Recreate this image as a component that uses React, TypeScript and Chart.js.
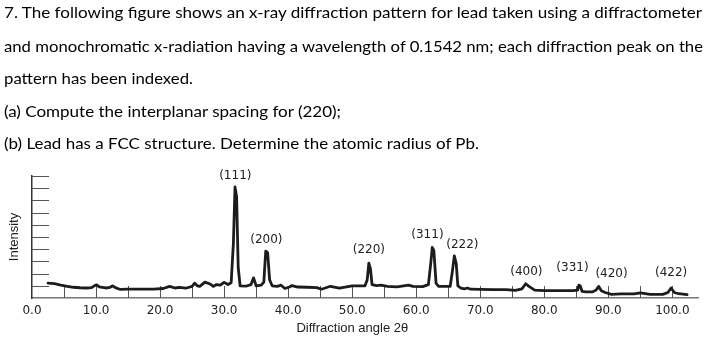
import React, { useEffect, useLayoutEffect, useRef } from "react";
import { Chart, registerables } from "chart.js";

Chart.register(...registerables);

// ---------- text ----------
const questionLines = [
  "7. The following figure shows an x-ray diffraction pattern for lead taken using a diffractometer",
  "and monochromatic x-radiation having a wavelength of 0.1542 nm; each diffraction peak on the",
  "pattern has been indexed.",
  "(a) Compute the interplanar spacing for (220);",
  "(b) Lead has a FCC structure. Determine the atomic radius of Pb.",
];

// ---------- data ----------
const twoTheta = [
  2.5, 3.5, 4.5, 5.5, 6.5, 7.5, 8.5, 9.3, 9.8, 10.1, 10.5, 11.5, 12.2, 12.6, 13.0, 13.8, 15, 17, 19, 20.5,
  21.5, 22.3, 23, 24, 25, 25.4, 25.8, 26.2, 27, 27.8, 28.3, 28.8, 29.4, 30, 30.6, 31.1, 31.45, 31.7, 31.95, 32.2,
  32.5, 33.5, 34.2, 34.6, 35, 35.8, 36.2, 36.5, 36.8, 37.1, 37.5, 38.3, 38.9, 39.5, 40.2, 40.6, 41.5, 43, 44.5, 45.2,
  46.6, 48, 50, 52, 52.35, 52.6, 52.85, 53.1, 53.8, 54.5, 55.5, 57, 58.8, 59.5, 61, 61.9, 62.3, 62.5, 62.75, 63.1,
  63.5, 65.3, 65.65, 65.95, 66.25, 66.5, 67, 67.5, 68, 68.5, 70, 72, 74, 75.5, 76.5, 77.1, 77.6, 78.5, 80, 82,
  84.5, 85.2, 85.4, 85.6, 85.9, 86.5, 87.5, 88.1, 88.5, 88.9, 89.5, 90.5, 92, 94, 95, 96.5, 98.5, 99.3, 99.8, 100.3,
  101, 102.3,
];
const intensity = [
  1.22, 1.18, 1.05, 0.95, 0.88, 0.84, 0.82, 0.85, 1.02, 1.08, 0.92, 0.82, 0.88, 1.0, 0.85, 0.7, 0.73, 0.73, 0.72, 0.78,
  0.95, 0.82, 0.88, 0.8, 0.95, 1.22, 1.0, 0.95, 1.3, 1.15, 0.95, 1.1, 1.05, 1.28, 1.1, 1.25, 4.5, 9.1, 8.3, 2.5,
  1.0, 0.98, 1.1, 1.65, 1.0, 1.05, 1.3, 3.85, 3.7, 1.5, 1.0, 0.95, 1.05, 0.78, 0.9, 1.02, 0.9, 0.88, 0.85, 0.72,
  0.96, 0.8, 1.0, 1.0, 1.5, 2.85, 2.4, 1.1, 1.02, 1.05, 0.95, 0.92, 1.05, 0.95, 0.93, 1.1, 3.0, 4.15, 3.9, 1.2,
  0.95, 0.95, 2.2, 3.45, 2.8, 1.0, 0.8, 0.75, 0.82, 0.72, 0.7, 0.68, 0.68, 0.62, 0.75, 1.17, 0.95, 0.65, 0.6, 0.6,
  0.6, 0.65, 1.05, 1.0, 0.55, 0.5, 0.5, 0.65, 0.95, 0.6, 0.45, 0.3, 0.33, 0.33, 0.42, 0.3, 0.3, 0.45, 0.82, 0.45,
  0.35, 0.27,
];

const peakLabels = ["(111)", "(200)", "(220)", "(311)", "(222)", "(400)", "(331)", "(420)", "(422)"];
const peakLabelX = [31.75, 36.6, 52.6, 61.75, 67.2, 77.2, 84.4, 90.5, 99.8];
const peakLabelY = [9.98, 4.76, 3.94, 5.16, 4.35, 2.17, 2.45, 1.96, 2.04];

const xTickLabels = ["0.0", "10.0", "20.0", "30.0", "40.0", "50.0", "60.0", "70.0", "80.0", "90.0", "100.0"];
const xTitle = "Diffraction angle 2θ";
const yTitle = "Intensity";

// ---------- layout ----------
const W = 710;
const H = 343;
const textLeft = 4;
const textTops = [2.4, 35.8, 68.1, 100.6, 132.6];
const textWidths = [698, 699, 189, 337, 475];

const axisMarks = {
  id: "axisMarks",
  beforeDatasetsDraw(chart: any) {
    const { ctx, chartArea, scales } = chart;
    const x = scales.x;
    const y = scales.y;
    ctx.save();
    ctx.lineWidth = 1;
    ctx.strokeStyle = "#555";
    x.ticks.forEach((t: any) => {
      if (t.value <= 0) return;
      const px = Math.round(x.getPixelForValue(t.value)) + 0.5;
      ctx.beginPath();
      ctx.moveTo(px, chartArea.bottom);
      ctx.lineTo(px, chartArea.bottom - 12);
      ctx.stroke();
    });
    y.ticks.forEach((t: any) => {
      if (t.value <= 0) return;
      const py = Math.round(y.getPixelForValue(t.value)) + 0.5;
      ctx.beginPath();
      ctx.moveTo(chartArea.left, py);
      ctx.lineTo(chartArea.left + 17, py);
      ctx.stroke();
    });
    ctx.restore();
  },
  afterDatasetsDraw(chart: any) {
    const { ctx, scales } = chart;
    ctx.save();
    ctx.font = '12px "DejaVu Sans"';
    ctx.fillStyle = "#222";
    ctx.textAlign = "center";
    ctx.textBaseline = "middle";
    peakLabels.forEach((lbl, i) => {
      ctx.fillText(lbl, scales.x.getPixelForValue(peakLabelX[i]), scales.y.getPixelForValue(peakLabelY[i]));
    });
    ctx.restore();
  },
};

export default function App() {
  const canvasRef = useRef<HTMLCanvasElement | null>(null);
  const spanRefs = useRef<(HTMLSpanElement | null)[]>([]);

  useLayoutEffect(() => {
    const fit = () => {
      spanRefs.current.forEach((el, i) => {
        if (!el) return;
        el.style.transform = "none";
        const w = el.getBoundingClientRect().width;
        if (w > 0) el.style.transform = `scaleX(${textWidths[i] / w})`;
      });
    };
    fit();
    if ((document as any).fonts && (document as any).fonts.ready) {
      (document as any).fonts.ready.then(fit);
    }
  }, []);

  useEffect(() => {
    if (!canvasRef.current) return;
    const chart = new Chart(canvasRef.current, {
      type: "line",
      data: {
        datasets: [
          {
            data: twoTheta.map((t, i) => ({ x: t, y: intensity[i] })),
            borderColor: "#1c1c1c",
            borderWidth: 2.8,
            pointRadius: 0,
            tension: 0,
            fill: false,
            borderJoinStyle: "round",
            borderCapStyle: "round",
          },
        ],
      },
      options: {
        animation: false,
        responsive: false,
        events: [],
        layout: { padding: { top: 176, left: 0, right: 12, bottom: 0 } },
        plugins: { legend: { display: false }, tooltip: { enabled: false } },
        scales: {
          x: {
            type: "linear",
            min: 0,
            max: 104,
            afterFit(s: any) {
              s.height = 45;
            },
            ticks: {
              stepSize: 5,
              includeBounds: false,
              autoSkip: false,
              maxRotation: 0,
              padding: 6,
              color: "#222",
              font: { family: '"DejaVu Sans"', size: 12 },
              callback: (v: any) => (Number(v) % 10 === 0 ? xTickLabels[Number(v) / 10] : ""),
            },
            grid: { display: true, drawOnChartArea: false, drawTicks: false },
            border: { display: true, color: "#777", width: 1.5 },
            title: {
              display: true,
              text: xTitle + "       ",
              color: "#222",
              font: { family: '"Liberation Sans"', size: 13 },
              padding: { top: 0, bottom: 7 },
            },
          },
          y: {
            type: "linear",
            min: 0,
            max: 10,
            afterFit(s: any) {
              s.width = 32;
            },
            ticks: { display: false, stepSize: 1 },
            grid: { display: true, drawOnChartArea: false, drawTicks: false },
            border: { display: true, color: "#333", width: 1.5 },
            title: {
              display: true,
              text: yTitle,
              color: "#222",
              font: { family: '"Liberation Sans"', size: 13 },
              padding: { top: 7, bottom: 0 },
            },
          },
        },
      },
      plugins: [axisMarks],
    } as any);
    return () => chart.destroy();
  }, []);

  return (
    <div style={{ position: "absolute", left: 0, top: 0, width: W, height: H, background: "#fff", overflow: "hidden" }}>
      <canvas ref={canvasRef} width={W} height={H} style={{ position: "absolute", left: 0, top: 0 }} />
      {questionLines.map((line, i) => (
        <span
          key={i}
          ref={(el) => {
            spanRefs.current[i] = el;
          }}
          style={{
            position: "absolute",
            left: textLeft,
            top: textTops[i],
            whiteSpace: "nowrap",
            fontFamily: "Lato, 'Noto Sans', sans-serif",
            fontSize: 15,
            lineHeight: "20px",
            color: "#000",
            transformOrigin: "0 0",
          }}
        >
          {line}
        </span>
      ))}
    </div>
  );
}
